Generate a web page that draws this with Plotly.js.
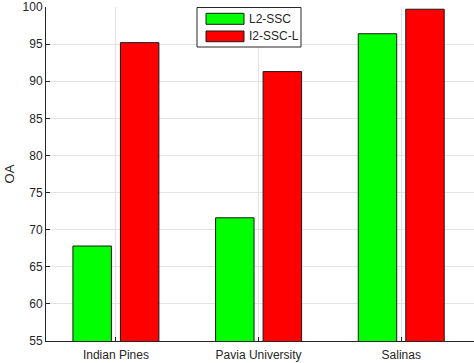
<!DOCTYPE html>
<html>
<head>
<meta charset="utf-8">
<script src="https://cdn.plot.ly/plotly-3.0.1.min.js"></script>
<style>html,body{margin:0;padding:0;background:#fff;}#chart{width:474px;height:363px;}</style>
</head>
<body>
<div id="chart"></div>
<script>
var categories = ["Indian Pines", "Pavia University", "Salinas"];
var seriesNames = ["L2-SSC", "I2-SSC-L"];
var l2ssc = [67.8, 71.6, 96.4];
var i2sscl = [95.2, 91.3, 99.7];
var yTicks = [55, 60, 65, 70, 75, 80, 85, 90, 95, 100];

var colors = ["#00ff00", "#ff0000"];
var font = {family: "Liberation Sans, Arial, sans-serif", size: 12, color: "#262626"};

var traces = [l2ssc, i2sscl].map(function (vals, i) {
  return {
    type: "bar", x: categories, y: vals, name: seriesNames[i],
    marker: {color: colors[i], line: {color: "#1a1a1a", width: 1}},
    hoverinfo: "x+y+name"
  };
});

// custom MATLAB-style legend
var plotL = 46, plotW = 428, plotT = 7, plotH = 334;
function px(x) { return (x - plotL) / plotW; }
function py(y) { return (plotT + plotH - y) / plotH; }
var shapes = [{
  type: "rect", xref: "paper", yref: "paper", layer: "above",
  x0: px(197), x1: px(301), y0: py(47), y1: py(7.5),
  fillcolor: "#ffffff", line: {color: "#262626", width: 1}
}];
var annotations = [];
var swY = [[13.3, 24.3], [31, 41.7]];
seriesNames.forEach(function (n, i) {
  shapes.push({
    type: "rect", xref: "paper", yref: "paper", layer: "above",
    x0: px(206), x1: px(244), y0: py(swY[i][1]), y1: py(swY[i][0]),
    fillcolor: colors[i], line: {color: "#1a1a1a", width: 1}
  });
  annotations.push({
    xref: "paper", yref: "paper", x: px(247), y: py((swY[i][0] + swY[i][1]) / 2),
    xanchor: "left", yanchor: "middle", text: n, showarrow: false, font: font
  });
});

var layout = {
  width: 474, height: 363,
  margin: {l: 46, r: 0, t: 7, b: 22, pad: 0},
  paper_bgcolor: "#ffffff", plot_bgcolor: "#ffffff",
  font: font,
  showlegend: false,
  barmode: "group", bargap: 0.334, bargroupgap: 0.19,
  xaxis: {
    type: "category", range: [-0.49, 2.51],
    showgrid: true, gridcolor: "#e3e3e3", gridwidth: 1,
    showline: true, linecolor: "#262626", linewidth: 1,
    ticks: "inside", ticklen: 4, tickcolor: "#262626",
    tickfont: font, zeroline: false, fixedrange: true,
    ticklabelstandoff: 3
  },
  yaxis: {
    range: [55, 100], tickvals: yTicks, ticktext: yTicks.map(String),
    showgrid: true, gridcolor: "#e3e3e3", gridwidth: 1,
    showline: true, linecolor: "#262626", linewidth: 1,
    ticks: "inside", ticklen: 4, tickcolor: "#262626",
    tickfont: font, zeroline: false, fixedrange: true,
    ticklabeloverflow: "allow",
    title: {text: "OA", font: {family: font.family, size: 13, color: "#262626"}, standoff: 5}
  },
  shapes: shapes,
  annotations: annotations
};

Plotly.newPlot("chart", traces, layout, {displayModeBar: false, staticPlot: true});
</script>
</body>
</html>
